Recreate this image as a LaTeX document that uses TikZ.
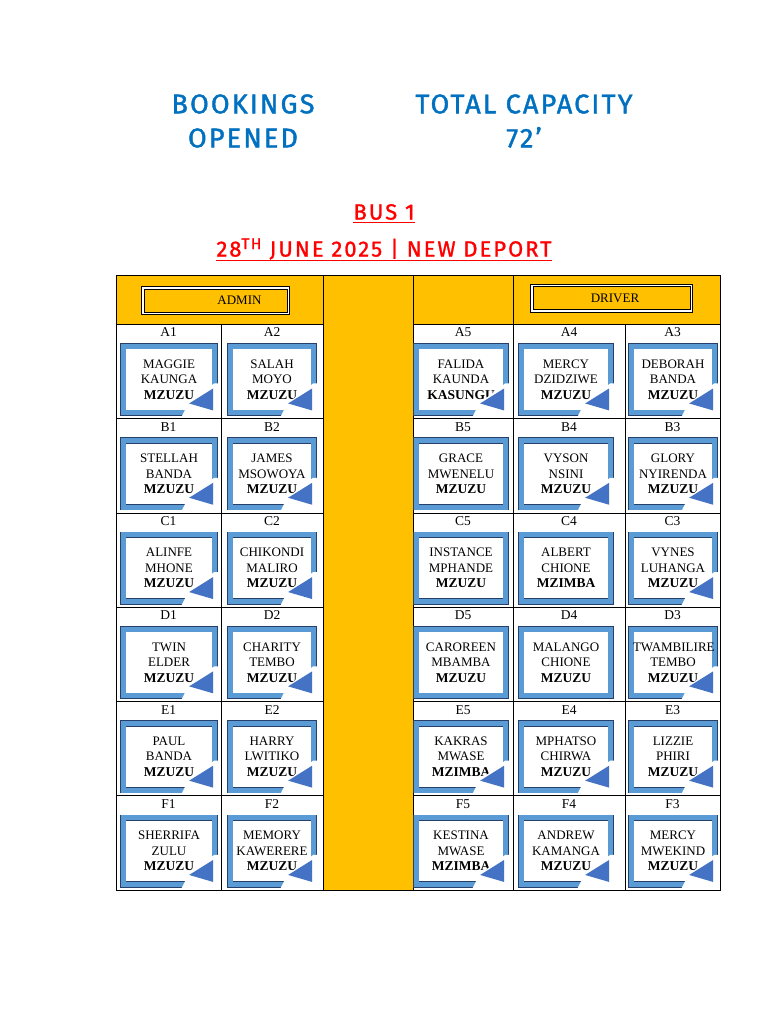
\documentclass[tikz,border=0pt]{standalone}
\usepackage{fontspec}
\setmainfont{Liberation Serif}
\newfontfamily\headfont[LetterSpace=8, FakeBold=1.5]{Fira Sans}
\newfontfamily\busfont[LetterSpace=9, FakeBold=1.2]{Fira Sans}
\usetikzlibrary{positioning}
\definecolor{gold}{RGB}{255,192,0}
\definecolor{cardblue}{RGB}{91,155,213}
\definecolor{cardedge}{RGB}{38,64,105}
\definecolor{curlblue}{RGB}{68,114,196}
\definecolor{headblue}{RGB}{0,112,192}
\definecolor{busred}{RGB}{255,0,0}
\newcommand{\town}[1]{{\bfseries\fontsize{13.5}{15.5}\selectfont #1}}
\tikzset{
  headline/.style = {font=\headfont\fontsize{27}{34}\selectfont, text=headblue, align=center},
  busline/.style  = {font=\busfont\fontsize{22}{25}\selectfont, text=busred, inner sep=0pt},
  grid/.style     = {draw=black, line width=0.8pt},
  % header tags: black double rule round a gold field
  tag/.style      = {draw=black, line width=1pt, double=white, double distance=1.5pt,
                     fill=gold, minimum height=25.5pt, inner sep=0pt,
                     font=\fontsize{13}{15}\selectfont},
  seatno/.style   = {font=\fontsize{13.5}{15}\selectfont, inner sep=0pt},
  seat/.style     = {draw=cardedge, line width=0.7pt, double=cardblue, double distance=5pt,
                     fill=white, minimum width=91.6pt, minimum height=66.6pt,
                     text width=80pt, align=center, inner sep=0pt,
                     font=\fontsize{13}{15.5}\selectfont},
  seatn/.style    = {seat, minimum width=83.6pt},
  seatm/.style    = {seat, minimum width=89.6pt},
}
% page curl in the lower right corner of a seat card
\newcommand{\curl}[1]{%
  \begin{scope}[shift={(#1.south east)}]
    \fill[white] (-34,4.3) -- (-27,-9.7) -- (-1,-29.7) -- (4.3,-29.7) -- (4.3,4.3) -- cycle;
    \fill[curlblue] (-26,-9.7) -- (-2,-24.7) -- (-2,-2.7) -- cycle;
  \end{scope}}

\begin{document}
\begin{tikzpicture}[x=1pt, y=-1pt]
  \useasboundingbox[fill=white] (0,0) rectangle (768,1024);

  \node[headline] (book) at (243,121) {BOOKINGS\\OPENED};
  \node[headline] (cap)  at (524,121) {TOTAL CAPACITY\\72’};
  \node[busline] (bus)  at (384,212) {BUS 1};
  \node[busline] (date) at (384,249) {28\textsuperscript{TH} JUNE 2025 | NEW DEPORT};
  \draw[busred, line width=1.2pt] ([yshift=-3pt]bus.base west) -- ([yshift=-3pt]bus.base east);
  \draw[busred, line width=1.2pt] ([yshift=-4pt]date.base west) -- ([yshift=-4pt]date.base east);

  \fill[gold] (116,275) rectangle (323,324);
  \fill[gold] (323,275) rectangle (413,890);
  \fill[gold] (413,275) rectangle (720,324);
  \draw[grid] (116,275) rectangle (720,890);
  \draw[grid] (323,275) -- (323,890);
  \draw[grid] (413,275) -- (413,890);
  \draw[grid] (513,275) -- (513,890);
  \draw[grid] (221,324) -- (221,890);
  \draw[grid] (625,324) -- (625,890);
  \foreach \y in {324,418,513,607,701,795} {
    \draw[grid] (116,\y) -- (323,\y);
    \draw[grid] (413,\y) -- (720,\y);
  }

  \node[tag, minimum width=145.5pt] (admin)  at (215.5,300.5) {\hspace*{48pt}ADMIN};
  \node[tag, minimum width=159.5pt] (driver) at (611.5,298) {\hspace*{7pt}DRIVER};

  \node[seatno] (la1) at (168.5,332.5) {A1};
  \node[seatno] (la2) at (272,332.5)   {A2};
  \node[seatno] (la5) at (463,332.5)   {A5};
  \node[seatno] (la4) at (569,332.5)   {A4};
  \node[seatno] (la3) at (672.5,332.5) {A3};
  \node[seat]  (a1) at (169,379.5) {MAGGIE\\KAUNGA\\\town{MZUZU}};
  \node[seatn] (a2) at (272,379.5) {SALAH\\MOYO\\\town{MZUZU}};
  \node[seatm] (a5) at (461,379.5) {FALIDA\\KAUNDA\\\town{KASUNGU}};
  \node[seatm] (a4) at (566,379.5) {MERCY\\DZIDZIWE\\\town{MZUZU}};
  \node[seatn] (a3) at (673,379.5) {DEBORAH\\BANDA\\\town{MZUZU}};

  \node[seatno] (lb1) at (168.5,426.8) {B1};
  \node[seatno] (lb2) at (272,426.8)   {B2};
  \node[seatno] (lb5) at (463,426.8)   {B5};
  \node[seatno] (lb4) at (569,426.8)   {B4};
  \node[seatno] (lb3) at (672.5,426.8) {B3};
  \node[seat]  (b1) at (169,473.8) {STELLAH\\BANDA\\\town{MZUZU}};
  \node[seatn] (b2) at (272,473.8) {JAMES\\MSOWOYA\\\town{MZUZU}};
  \node[seatm] (b5) at (461,473.8) {GRACE\\MWENELU\\\town{MZUZU}};
  \node[seatm] (b4) at (566,473.8) {VYSON\\NSINI\\\town{MZUZU}};
  \node[seatn] (b3) at (673,473.8) {GLORY\\NYIRENDA\\\town{MZUZU}};

  \node[seatno] (lc1) at (168.5,521.1) {C1};
  \node[seatno] (lc2) at (272,521.1)   {C2};
  \node[seatno] (lc5) at (463,521.1)   {C5};
  \node[seatno] (lc4) at (569,521.1)   {C4};
  \node[seatno] (lc3) at (672.5,521.1) {C3};
  \node[seat]  (c1) at (169,568.1) {ALINFE\\MHONE\\\town{MZUZU}};
  \node[seatn] (c2) at (272,568.1) {CHIKONDI\\MALIRO\\\town{MZUZU}};
  \node[seatm] (c5) at (461,568.1) {INSTANCE\\MPHANDE\\\town{MZUZU}};
  \node[seatm] (c4) at (566,568.1) {ALBERT\\CHIONE\\\town{MZIMBA}};
  \node[seatn] (c3) at (673,568.1) {VYNES\\LUHANGA\\\town{MZUZU}};

  \node[seatno] (ld1) at (168.5,615.4) {D1};
  \node[seatno] (ld2) at (272,615.4)   {D2};
  \node[seatno] (ld5) at (463,615.4)   {D5};
  \node[seatno] (ld4) at (569,615.4)   {D4};
  \node[seatno] (ld3) at (672.5,615.4) {D3};
  \node[seat]  (d1) at (169,662.4) {TWIN\\ELDER\\\town{MZUZU}};
  \node[seatn] (d2) at (272,662.4) {CHARITY\\TEMBO\\\town{MZUZU}};
  \node[seatm] (d5) at (461,662.4) {CAROREEN\\MBAMBA\\\town{MZUZU}};
  \node[seatm] (d4) at (566,662.4) {MALANGO\\CHIONE\\\town{MZUZU}};
  \node[seatn] (d3) at (673,662.4) {TWAMBILIRE\\TEMBO\\\town{MZUZU}};

  \node[seatno] (le1) at (168.5,709.7) {E1};
  \node[seatno] (le2) at (272,709.7)   {E2};
  \node[seatno] (le5) at (463,709.7)   {E5};
  \node[seatno] (le4) at (569,709.7)   {E4};
  \node[seatno] (le3) at (672.5,709.7) {E3};
  \node[seat]  (e1) at (169,756.7) {PAUL\\BANDA\\\town{MZUZU}};
  \node[seatn] (e2) at (272,756.7) {HARRY\\LWITIKO\\\town{MZUZU}};
  \node[seatm] (e5) at (461,756.7) {KAKRAS\\MWASE\\\town{MZIMBA}};
  \node[seatm] (e4) at (566,756.7) {MPHATSO\\CHIRWA\\\town{MZUZU}};
  \node[seatn] (e3) at (673,756.7) {LIZZIE\\PHIRI\\\town{MZUZU}};

  \node[seatno] (lf1) at (168.5,804) {F1};
  \node[seatno] (lf2) at (272,804)   {F2};
  \node[seatno] (lf5) at (463,804)   {F5};
  \node[seatno] (lf4) at (569,804)   {F4};
  \node[seatno] (lf3) at (672.5,804) {F3};
  \node[seat]  (f1) at (169,851) {SHERRIFA\\ZULU\\\town{MZUZU}};
  \node[seatn] (f2) at (272,851) {MEMORY\\KAWERERE\\\town{MZUZU}};
  \node[seatm] (f5) at (461,851) {KESTINA\\MWASE\\\town{MZIMBA}};
  \node[seatm] (f4) at (566,851) {ANDREW\\KAMANGA\\\town{MZUZU}};
  \node[seatn] (f3) at (673,851) {MERCY\\MWEKIND\\\town{MZUZU}};

  \foreach \s in {a1,a2,a5,a4,a3,b1,b2,b4,b3,c1,c2,c3,d1,d2,d3,
                  e1,e2,e5,e4,e3,f1,f2,f5,f4,f3} {\curl{\s}}
\end{tikzpicture}
\end{document}
